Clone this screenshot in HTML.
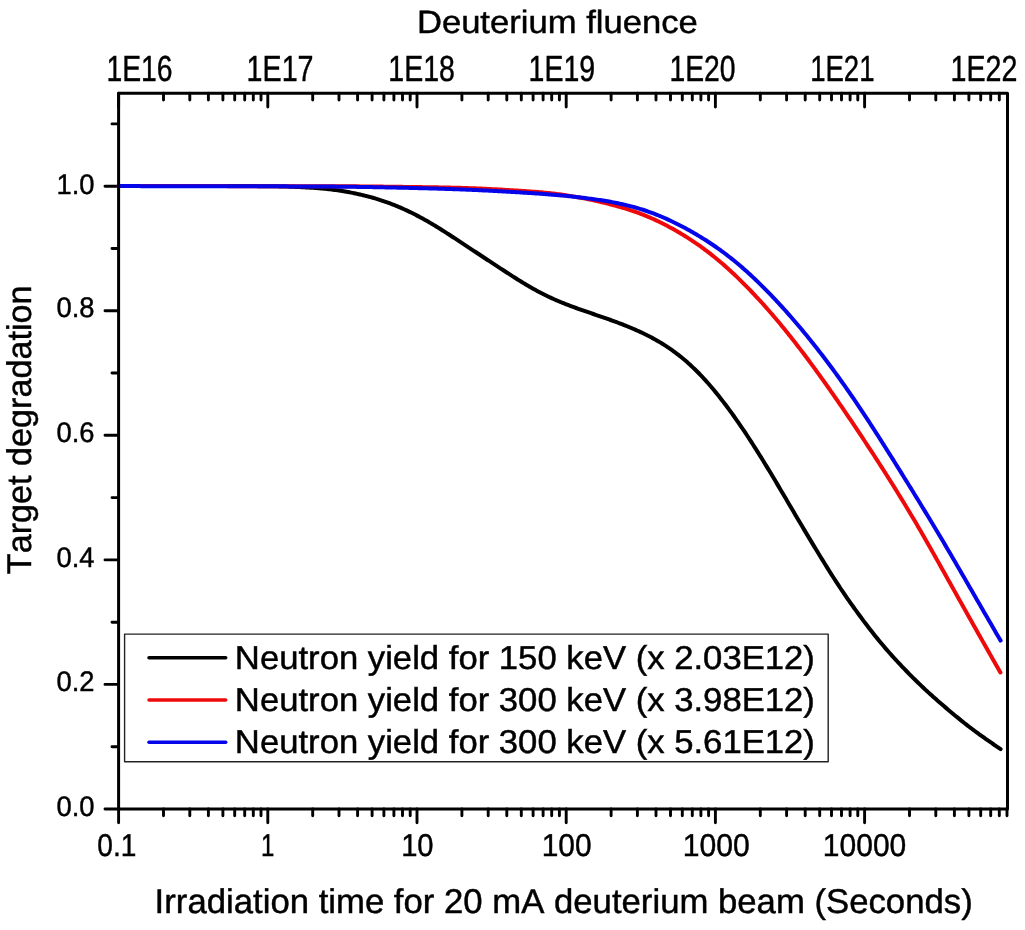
<!DOCTYPE html><html><head><meta charset="utf-8"><title>Target degradation</title>
<style>html,body{margin:0;padding:0;background:#fff;}body{width:1025px;height:930px;overflow:hidden;}svg{display:block;}text{font-family:"Liberation Sans",Arial,sans-serif;fill:#000;stroke:#000;stroke-width:0.45px;text-rendering:geometricPrecision;font-kerning:none;}</style></head><body>
<svg width="1025" height="930" viewBox="0 0 1025 930">
<rect x="0" y="0" width="1025" height="930" fill="#fff"/>
<path d="M118.6,809.0v13.8 M118.6,93.2v13.8 M163.5,809.0v6.8 M163.5,93.2v6.8 M189.8,809.0v6.8 M189.8,93.2v6.8 M208.4,809.0v6.8 M208.4,93.2v6.8 M222.9,809.0v6.8 M222.9,93.2v6.8 M234.7,809.0v6.8 M234.7,93.2v6.8 M244.7,809.0v6.8 M244.7,93.2v6.8 M253.3,809.0v6.8 M253.3,93.2v6.8 M261.0,809.0v6.8 M261.0,93.2v6.8 M267.8,809.0v13.8 M267.8,93.2v13.8 M312.7,809.0v6.8 M312.7,93.2v6.8 M339.0,809.0v6.8 M339.0,93.2v6.8 M357.6,809.0v6.8 M357.6,93.2v6.8 M372.1,809.0v6.8 M372.1,93.2v6.8 M383.9,809.0v6.8 M383.9,93.2v6.8 M393.9,809.0v6.8 M393.9,93.2v6.8 M402.5,809.0v6.8 M402.5,93.2v6.8 M410.2,809.0v6.8 M410.2,93.2v6.8 M417.0,809.0v13.8 M417.0,93.2v13.8 M461.9,809.0v6.8 M461.9,93.2v6.8 M488.2,809.0v6.8 M488.2,93.2v6.8 M506.8,809.0v6.8 M506.8,93.2v6.8 M521.3,809.0v6.8 M521.3,93.2v6.8 M533.1,809.0v6.8 M533.1,93.2v6.8 M543.1,809.0v6.8 M543.1,93.2v6.8 M551.7,809.0v6.8 M551.7,93.2v6.8 M559.4,809.0v6.8 M559.4,93.2v6.8 M566.2,809.0v13.8 M566.2,93.2v13.8 M611.1,809.0v6.8 M611.1,93.2v6.8 M637.4,809.0v6.8 M637.4,93.2v6.8 M656.0,809.0v6.8 M656.0,93.2v6.8 M670.5,809.0v6.8 M670.5,93.2v6.8 M682.3,809.0v6.8 M682.3,93.2v6.8 M692.3,809.0v6.8 M692.3,93.2v6.8 M700.9,809.0v6.8 M700.9,93.2v6.8 M708.6,809.0v6.8 M708.6,93.2v6.8 M715.4,809.0v13.8 M715.4,93.2v13.8 M760.3,809.0v6.8 M760.3,93.2v6.8 M786.6,809.0v6.8 M786.6,93.2v6.8 M805.2,809.0v6.8 M805.2,93.2v6.8 M819.7,809.0v6.8 M819.7,93.2v6.8 M831.5,809.0v6.8 M831.5,93.2v6.8 M841.5,809.0v6.8 M841.5,93.2v6.8 M850.1,809.0v6.8 M850.1,93.2v6.8 M857.8,809.0v6.8 M857.8,93.2v6.8 M864.6,809.0v13.8 M864.6,93.2v13.8 M909.5,809.0v6.8 M909.5,93.2v6.8 M935.8,809.0v6.8 M935.8,93.2v6.8 M954.4,809.0v6.8 M954.4,93.2v6.8 M968.9,809.0v6.8 M968.9,93.2v6.8 M980.7,809.0v6.8 M980.7,93.2v6.8 M990.7,809.0v6.8 M990.7,93.2v6.8 M999.3,809.0v6.8 M999.3,93.2v6.8 M1007.0,809.0v6.8 M118.6,809.0h-13.6 M118.6,746.7h-6.6 M118.6,684.4h-13.6 M118.6,622.2h-6.6 M118.6,559.9h-13.6 M118.6,497.6h-6.6 M118.6,435.3h-13.6 M118.6,373.0h-6.6 M118.6,310.8h-13.6 M118.6,248.5h-6.6 M118.6,186.2h-13.6 M118.6,123.9h-6.6" stroke="#000" stroke-width="2.9" fill="none" stroke-linecap="round"/>
<path d="M118.6,186.10 L120.1,186.10 L121.6,186.10 L123.1,186.10 L124.6,186.10 L126.1,186.10 L127.6,186.10 L129.1,186.11 L130.6,186.11 L132.1,186.11 L133.6,186.11 L135.1,186.11 L136.6,186.11 L138.1,186.11 L139.6,186.11 L141.1,186.11 L142.6,186.11 L144.1,186.11 L145.6,186.11 L147.1,186.11 L148.6,186.11 L150.1,186.11 L151.6,186.11 L153.1,186.11 L154.6,186.11 L156.1,186.11 L157.6,186.11 L159.1,186.11 L160.6,186.11 L162.1,186.11 L163.6,186.11 L165.1,186.11 L166.6,186.11 L168.1,186.11 L169.6,186.11 L171.1,186.11 L172.6,186.11 L174.1,186.11 L175.6,186.11 L177.1,186.11 L178.6,186.11 L180.1,186.11 L181.6,186.11 L183.1,186.10 L184.6,186.10 L186.1,186.10 L187.6,186.10 L189.1,186.10 L190.6,186.10 L192.1,186.10 L193.6,186.09 L195.1,186.09 L196.6,186.09 L198.1,186.09 L199.6,186.09 L201.1,186.08 L202.6,186.08 L204.1,186.08 L205.6,186.08 L207.1,186.07 L208.6,186.07 L210.1,186.07 L211.6,186.07 L213.1,186.06 L214.6,186.06 L216.1,186.06 L217.6,186.06 L219.1,186.06 L220.6,186.05 L222.1,186.05 L223.6,186.05 L225.1,186.05 L226.6,186.05 L228.1,186.05 L229.6,186.05 L231.1,186.05 L232.6,186.05 L234.1,186.05 L235.6,186.05 L237.1,186.05 L238.6,186.05 L240.1,186.06 L241.6,186.06 L243.1,186.06 L244.6,186.07 L246.1,186.07 L247.6,186.08 L249.1,186.08 L250.6,186.09 L252.1,186.09 L253.6,186.10 L255.1,186.11 L256.6,186.12 L258.1,186.13 L259.6,186.14 L261.1,186.15 L262.6,186.16 L264.1,186.17 L265.6,186.19 L267.1,186.20 L268.6,186.22 L270.1,186.24 L271.6,186.26 L273.1,186.28 L274.6,186.30 L276.1,186.33 L277.6,186.35 L279.1,186.38 L280.6,186.41 L282.1,186.45 L283.6,186.48 L285.1,186.52 L286.6,186.56 L288.1,186.61 L289.6,186.66 L291.1,186.71 L292.6,186.76 L294.1,186.82 L295.6,186.88 L297.1,186.94 L298.6,187.01 L300.1,187.08 L301.6,187.15 L303.1,187.23 L304.6,187.31 L306.1,187.39 L307.6,187.48 L309.1,187.57 L310.6,187.66 L312.1,187.76 L313.6,187.86 L315.1,187.97 L316.6,188.08 L318.1,188.20 L319.6,188.32 L321.1,188.45 L322.6,188.59 L324.1,188.73 L325.6,188.88 L327.1,189.04 L328.6,189.20 L330.1,189.37 L331.6,189.55 L333.1,189.74 L334.6,189.93 L336.1,190.14 L337.6,190.35 L339.1,190.57 L340.6,190.80 L342.1,191.03 L343.6,191.28 L345.1,191.53 L346.6,191.79 L348.1,192.06 L349.6,192.34 L351.1,192.62 L352.6,192.91 L354.1,193.22 L355.6,193.53 L357.1,193.85 L358.6,194.17 L360.1,194.51 L361.6,194.85 L363.1,195.21 L364.6,195.57 L366.1,195.95 L367.6,196.33 L369.1,196.73 L370.6,197.13 L372.1,197.55 L373.6,197.98 L375.1,198.41 L376.6,198.86 L378.1,199.33 L379.6,199.80 L381.1,200.28 L382.6,200.78 L384.1,201.29 L385.6,201.81 L387.1,202.35 L388.6,202.89 L390.1,203.45 L391.6,204.02 L393.1,204.61 L394.6,205.20 L396.1,205.81 L397.6,206.43 L399.1,207.06 L400.6,207.71 L402.1,208.36 L403.6,209.03 L405.1,209.71 L406.6,210.41 L408.1,211.11 L409.6,211.83 L411.1,212.56 L412.6,213.31 L414.1,214.06 L415.6,214.83 L417.1,215.60 L418.6,216.39 L420.1,217.19 L421.6,218.01 L423.1,218.83 L424.6,219.66 L426.1,220.51 L427.6,221.36 L429.1,222.23 L430.6,223.11 L432.1,224.00 L433.6,224.89 L435.1,225.80 L436.6,226.72 L438.1,227.64 L439.6,228.57 L441.1,229.51 L442.6,230.46 L444.1,231.41 L445.6,232.37 L447.1,233.33 L448.6,234.30 L450.1,235.27 L451.6,236.24 L453.1,237.22 L454.6,238.20 L456.1,239.18 L457.6,240.16 L459.1,241.15 L460.6,242.14 L462.1,243.12 L463.6,244.11 L465.1,245.10 L466.6,246.09 L468.1,247.08 L469.6,248.07 L471.1,249.06 L472.6,250.06 L474.1,251.05 L475.6,252.04 L477.1,253.03 L478.6,254.02 L480.1,255.01 L481.6,256.00 L483.1,256.99 L484.6,257.98 L486.1,258.97 L487.6,259.96 L489.1,260.95 L490.6,261.93 L492.1,262.92 L493.6,263.90 L495.1,264.89 L496.6,265.87 L498.1,266.85 L499.6,267.83 L501.1,268.81 L502.6,269.79 L504.1,270.77 L505.6,271.74 L507.1,272.72 L508.6,273.69 L510.1,274.66 L511.6,275.62 L513.1,276.58 L514.6,277.54 L516.1,278.49 L517.6,279.44 L519.1,280.38 L520.6,281.31 L522.1,282.23 L523.6,283.15 L525.1,284.05 L526.6,284.95 L528.1,285.83 L529.6,286.71 L531.1,287.57 L532.6,288.42 L534.1,289.26 L535.6,290.08 L537.1,290.90 L538.6,291.70 L540.1,292.49 L541.6,293.26 L543.1,294.03 L544.6,294.78 L546.1,295.52 L547.6,296.25 L549.1,296.97 L550.6,297.67 L552.1,298.37 L553.6,299.05 L555.1,299.71 L556.6,300.37 L558.1,301.01 L559.6,301.64 L561.1,302.26 L562.6,302.87 L564.1,303.47 L565.6,304.07 L567.1,304.65 L568.6,305.22 L570.1,305.79 L571.6,306.35 L573.1,306.91 L574.6,307.45 L576.1,308.00 L577.6,308.53 L579.1,309.07 L580.6,309.60 L582.1,310.12 L583.6,310.65 L585.1,311.17 L586.6,311.69 L588.1,312.20 L589.6,312.72 L591.1,313.23 L592.6,313.74 L594.1,314.26 L595.6,314.77 L597.1,315.28 L598.6,315.80 L600.1,316.31 L601.6,316.83 L603.1,317.35 L604.6,317.87 L606.1,318.40 L607.6,318.93 L609.1,319.46 L610.6,319.99 L612.1,320.54 L613.6,321.08 L615.1,321.63 L616.6,322.18 L618.1,322.75 L619.6,323.31 L621.1,323.89 L622.6,324.47 L624.1,325.05 L625.6,325.65 L627.1,326.25 L628.6,326.86 L630.1,327.48 L631.6,328.11 L633.1,328.75 L634.6,329.40 L636.1,330.06 L637.6,330.73 L639.1,331.41 L640.6,332.11 L642.1,332.81 L643.6,333.53 L645.1,334.26 L646.6,335.01 L648.1,335.76 L649.6,336.54 L651.1,337.33 L652.6,338.13 L654.1,338.95 L655.6,339.79 L657.1,340.64 L658.6,341.51 L660.1,342.40 L661.6,343.31 L663.1,344.24 L664.6,345.18 L666.1,346.15 L667.6,347.14 L669.1,348.15 L670.6,349.18 L672.1,350.23 L673.6,351.31 L675.1,352.41 L676.6,353.53 L678.1,354.68 L679.6,355.85 L681.1,357.05 L682.6,358.27 L684.1,359.52 L685.6,360.80 L687.1,362.10 L688.6,363.43 L690.1,364.79 L691.6,366.17 L693.1,367.59 L694.6,369.03 L696.1,370.50 L697.6,371.99 L699.1,373.52 L700.6,375.08 L702.1,376.66 L703.6,378.27 L705.1,379.92 L706.6,381.58 L708.1,383.28 L709.6,385.00 L711.1,386.75 L712.6,388.52 L714.1,390.32 L715.6,392.14 L717.1,393.99 L718.6,395.86 L720.1,397.76 L721.6,399.67 L723.1,401.61 L724.6,403.57 L726.1,405.55 L727.6,407.56 L729.1,409.58 L730.6,411.63 L732.1,413.70 L733.6,415.79 L735.1,417.90 L736.6,420.03 L738.1,422.18 L739.6,424.35 L741.1,426.54 L742.6,428.75 L744.1,430.97 L745.6,433.22 L747.1,435.49 L748.6,437.77 L750.1,440.07 L751.6,442.38 L753.1,444.72 L754.6,447.07 L756.1,449.43 L757.6,451.81 L759.1,454.20 L760.6,456.61 L762.1,459.04 L763.6,461.47 L765.1,463.92 L766.6,466.38 L768.1,468.85 L769.6,471.33 L771.1,473.82 L772.6,476.32 L774.1,478.83 L775.6,481.34 L777.1,483.86 L778.6,486.39 L780.1,488.93 L781.6,491.47 L783.1,494.01 L784.6,496.56 L786.1,499.11 L787.6,501.66 L789.1,504.21 L790.6,506.76 L792.1,509.31 L793.6,511.86 L795.1,514.41 L796.6,516.96 L798.1,519.50 L799.6,522.04 L801.1,524.57 L802.6,527.10 L804.1,529.62 L805.6,532.13 L807.1,534.64 L808.6,537.15 L810.1,539.64 L811.6,542.14 L813.1,544.62 L814.6,547.10 L816.1,549.57 L817.6,552.04 L819.1,554.49 L820.6,556.95 L822.1,559.39 L823.6,561.82 L825.1,564.25 L826.6,566.67 L828.1,569.07 L829.6,571.46 L831.1,573.84 L832.6,576.20 L834.1,578.54 L835.6,580.87 L837.1,583.18 L838.6,585.47 L840.1,587.74 L841.6,589.99 L843.1,592.22 L844.6,594.42 L846.1,596.61 L847.6,598.78 L849.1,600.93 L850.6,603.07 L852.1,605.18 L853.6,607.28 L855.1,609.37 L856.6,611.44 L858.1,613.49 L859.6,615.53 L861.1,617.56 L862.6,619.58 L864.1,621.58 L865.6,623.56 L867.1,625.53 L868.6,627.49 L870.1,629.43 L871.6,631.35 L873.1,633.26 L874.6,635.14 L876.1,637.02 L877.6,638.87 L879.1,640.70 L880.6,642.51 L882.1,644.31 L883.6,646.08 L885.1,647.83 L886.6,649.57 L888.1,651.29 L889.6,652.99 L891.1,654.68 L892.6,656.35 L894.1,658.00 L895.6,659.64 L897.1,661.27 L898.6,662.88 L900.1,664.47 L901.6,666.06 L903.1,667.63 L904.6,669.19 L906.1,670.74 L907.6,672.27 L909.1,673.80 L910.6,675.31 L912.1,676.82 L913.6,678.31 L915.1,679.79 L916.6,681.26 L918.1,682.72 L919.6,684.16 L921.1,685.60 L922.6,687.02 L924.1,688.44 L925.6,689.84 L927.1,691.23 L928.6,692.61 L930.1,693.97 L931.6,695.33 L933.1,696.68 L934.6,698.01 L936.1,699.34 L937.6,700.66 L939.1,701.97 L940.6,703.27 L942.1,704.56 L943.6,705.85 L945.1,707.13 L946.6,708.40 L948.1,709.67 L949.6,710.93 L951.1,712.19 L952.6,713.45 L954.1,714.69 L955.6,715.94 L957.1,717.17 L958.6,718.39 L960.1,719.61 L961.6,720.82 L963.1,722.02 L964.6,723.21 L966.1,724.39 L967.6,725.55 L969.1,726.71 L970.6,727.85 L972.1,728.99 L973.6,730.11 L975.1,731.23 L976.6,732.34 L978.1,733.43 L979.6,734.52 L981.1,735.60 L982.6,736.68 L984.1,737.74 L985.6,738.80 L987.1,739.85 L988.6,740.90 L990.1,741.94 L991.6,742.97 L993.1,744.00 L994.6,745.03 L996.1,746.05 L997.6,747.08 L999.1,748.10 L1000.6,749.12" stroke="#000" stroke-width="4.0" fill="none" stroke-linejoin="round" stroke-linecap="round"/>
<path d="M118.6,186.10 L120.1,186.10 L121.6,186.10 L123.1,186.10 L124.6,186.10 L126.1,186.10 L127.6,186.10 L129.1,186.10 L130.6,186.10 L132.1,186.10 L133.6,186.10 L135.1,186.10 L136.6,186.10 L138.1,186.10 L139.6,186.10 L141.1,186.10 L142.6,186.10 L144.1,186.10 L145.6,186.09 L147.1,186.09 L148.6,186.09 L150.1,186.09 L151.6,186.09 L153.1,186.09 L154.6,186.09 L156.1,186.09 L157.6,186.09 L159.1,186.09 L160.6,186.09 L162.1,186.09 L163.6,186.09 L165.1,186.09 L166.6,186.09 L168.1,186.09 L169.6,186.09 L171.1,186.09 L172.6,186.09 L174.1,186.09 L175.6,186.09 L177.1,186.10 L178.6,186.10 L180.1,186.10 L181.6,186.10 L183.1,186.10 L184.6,186.10 L186.1,186.10 L187.6,186.10 L189.1,186.10 L190.6,186.10 L192.1,186.10 L193.6,186.10 L195.1,186.10 L196.6,186.10 L198.1,186.10 L199.6,186.10 L201.1,186.10 L202.6,186.10 L204.1,186.11 L205.6,186.11 L207.1,186.11 L208.6,186.11 L210.1,186.11 L211.6,186.11 L213.1,186.11 L214.6,186.11 L216.1,186.11 L217.6,186.12 L219.1,186.12 L220.6,186.12 L222.1,186.12 L223.6,186.12 L225.1,186.12 L226.6,186.12 L228.1,186.13 L229.6,186.13 L231.1,186.13 L232.6,186.13 L234.1,186.13 L235.6,186.13 L237.1,186.13 L238.6,186.14 L240.1,186.14 L241.6,186.14 L243.1,186.14 L244.6,186.14 L246.1,186.14 L247.6,186.14 L249.1,186.15 L250.6,186.15 L252.1,186.15 L253.6,186.15 L255.1,186.15 L256.6,186.15 L258.1,186.15 L259.6,186.16 L261.1,186.16 L262.6,186.16 L264.1,186.16 L265.6,186.16 L267.1,186.16 L268.6,186.16 L270.1,186.16 L271.6,186.17 L273.1,186.17 L274.6,186.17 L276.1,186.17 L277.6,186.17 L279.1,186.17 L280.6,186.17 L282.1,186.17 L283.6,186.17 L285.1,186.18 L286.6,186.18 L288.1,186.18 L289.6,186.18 L291.1,186.18 L292.6,186.18 L294.1,186.18 L295.6,186.18 L297.1,186.18 L298.6,186.18 L300.1,186.18 L301.6,186.18 L303.1,186.18 L304.6,186.19 L306.1,186.19 L307.6,186.19 L309.1,186.19 L310.6,186.19 L312.1,186.19 L313.6,186.19 L315.1,186.20 L316.6,186.20 L318.1,186.20 L319.6,186.20 L321.1,186.20 L322.6,186.21 L324.1,186.21 L325.6,186.21 L327.1,186.22 L328.6,186.22 L330.1,186.22 L331.6,186.23 L333.1,186.23 L334.6,186.24 L336.1,186.24 L337.6,186.25 L339.1,186.25 L340.6,186.26 L342.1,186.27 L343.6,186.28 L345.1,186.28 L346.6,186.29 L348.1,186.30 L349.6,186.31 L351.1,186.32 L352.6,186.33 L354.1,186.34 L355.6,186.35 L357.1,186.36 L358.6,186.37 L360.1,186.39 L361.6,186.40 L363.1,186.41 L364.6,186.42 L366.1,186.44 L367.6,186.45 L369.1,186.47 L370.6,186.48 L372.1,186.50 L373.6,186.52 L375.1,186.53 L376.6,186.55 L378.1,186.56 L379.6,186.58 L381.1,186.60 L382.6,186.62 L384.1,186.63 L385.6,186.65 L387.1,186.67 L388.6,186.69 L390.1,186.71 L391.6,186.73 L393.1,186.74 L394.6,186.76 L396.1,186.78 L397.6,186.80 L399.1,186.82 L400.6,186.84 L402.1,186.86 L403.6,186.88 L405.1,186.90 L406.6,186.92 L408.1,186.94 L409.6,186.96 L411.1,186.98 L412.6,187.00 L414.1,187.02 L415.6,187.04 L417.1,187.06 L418.6,187.08 L420.1,187.10 L421.6,187.12 L423.1,187.14 L424.6,187.16 L426.1,187.19 L427.6,187.21 L429.1,187.23 L430.6,187.25 L432.1,187.27 L433.6,187.29 L435.1,187.32 L436.6,187.34 L438.1,187.37 L439.6,187.39 L441.1,187.42 L442.6,187.44 L444.1,187.47 L445.6,187.50 L447.1,187.53 L448.6,187.56 L450.1,187.59 L451.6,187.63 L453.1,187.66 L454.6,187.70 L456.1,187.73 L457.6,187.77 L459.1,187.81 L460.6,187.85 L462.1,187.90 L463.6,187.94 L465.1,187.99 L466.6,188.04 L468.1,188.09 L469.6,188.14 L471.1,188.19 L472.6,188.25 L474.1,188.31 L475.6,188.37 L477.1,188.43 L478.6,188.49 L480.1,188.56 L481.6,188.62 L483.1,188.69 L484.6,188.76 L486.1,188.83 L487.6,188.90 L489.1,188.98 L490.6,189.05 L492.1,189.13 L493.6,189.21 L495.1,189.29 L496.6,189.37 L498.1,189.45 L499.6,189.54 L501.1,189.62 L502.6,189.70 L504.1,189.79 L505.6,189.88 L507.1,189.97 L508.6,190.05 L510.1,190.14 L511.6,190.24 L513.1,190.33 L514.6,190.42 L516.1,190.51 L517.6,190.60 L519.1,190.70 L520.6,190.79 L522.1,190.89 L523.6,190.99 L525.1,191.09 L526.6,191.19 L528.1,191.30 L529.6,191.40 L531.1,191.51 L532.6,191.62 L534.1,191.74 L535.6,191.86 L537.1,191.98 L538.6,192.10 L540.1,192.23 L541.6,192.36 L543.1,192.50 L544.6,192.64 L546.1,192.79 L547.6,192.94 L549.1,193.09 L550.6,193.25 L552.1,193.42 L553.6,193.59 L555.1,193.76 L556.6,193.95 L558.1,194.13 L559.6,194.33 L561.1,194.53 L562.6,194.74 L564.1,194.95 L565.6,195.17 L567.1,195.40 L568.6,195.63 L570.1,195.87 L571.6,196.12 L573.1,196.37 L574.6,196.62 L576.1,196.89 L577.6,197.16 L579.1,197.43 L580.6,197.71 L582.1,198.00 L583.6,198.29 L585.1,198.59 L586.6,198.89 L588.1,199.20 L589.6,199.51 L591.1,199.83 L592.6,200.15 L594.1,200.48 L595.6,200.82 L597.1,201.16 L598.6,201.50 L600.1,201.85 L601.6,202.21 L603.1,202.57 L604.6,202.93 L606.1,203.31 L607.6,203.68 L609.1,204.06 L610.6,204.45 L612.1,204.84 L613.6,205.23 L615.1,205.63 L616.6,206.04 L618.1,206.46 L619.6,206.88 L621.1,207.31 L622.6,207.75 L624.1,208.19 L625.6,208.65 L627.1,209.11 L628.6,209.59 L630.1,210.07 L631.6,210.57 L633.1,211.07 L634.6,211.59 L636.1,212.12 L637.6,212.66 L639.1,213.22 L640.6,213.79 L642.1,214.36 L643.6,214.96 L645.1,215.56 L646.6,216.18 L648.1,216.80 L649.6,217.44 L651.1,218.10 L652.6,218.76 L654.1,219.44 L655.6,220.13 L657.1,220.83 L658.6,221.54 L660.1,222.27 L661.6,223.01 L663.1,223.76 L664.6,224.53 L666.1,225.30 L667.6,226.09 L669.1,226.89 L670.6,227.70 L672.1,228.52 L673.6,229.35 L675.1,230.20 L676.6,231.06 L678.1,231.93 L679.6,232.81 L681.1,233.70 L682.6,234.61 L684.1,235.52 L685.6,236.45 L687.1,237.40 L688.6,238.35 L690.1,239.32 L691.6,240.30 L693.1,241.30 L694.6,242.31 L696.1,243.33 L697.6,244.37 L699.1,245.42 L700.6,246.49 L702.1,247.57 L703.6,248.67 L705.1,249.78 L706.6,250.90 L708.1,252.04 L709.6,253.20 L711.1,254.37 L712.6,255.56 L714.1,256.76 L715.6,257.98 L717.1,259.22 L718.6,260.47 L720.1,261.73 L721.6,263.01 L723.1,264.31 L724.6,265.62 L726.1,266.95 L727.6,268.29 L729.1,269.65 L730.6,271.03 L732.1,272.42 L733.6,273.82 L735.1,275.24 L736.6,276.68 L738.1,278.13 L739.6,279.59 L741.1,281.07 L742.6,282.56 L744.1,284.06 L745.6,285.58 L747.1,287.10 L748.6,288.64 L750.1,290.19 L751.6,291.75 L753.1,293.32 L754.6,294.91 L756.1,296.51 L757.6,298.12 L759.1,299.74 L760.6,301.37 L762.1,303.02 L763.6,304.68 L765.1,306.36 L766.6,308.05 L768.1,309.75 L769.6,311.46 L771.1,313.19 L772.6,314.93 L774.1,316.69 L775.6,318.45 L777.1,320.23 L778.6,322.03 L780.1,323.83 L781.6,325.65 L783.1,327.48 L784.6,329.32 L786.1,331.17 L787.6,333.04 L789.1,334.92 L790.6,336.81 L792.1,338.71 L793.6,340.62 L795.1,342.54 L796.6,344.48 L798.1,346.42 L799.6,348.37 L801.1,350.34 L802.6,352.31 L804.1,354.30 L805.6,356.29 L807.1,358.29 L808.6,360.30 L810.1,362.32 L811.6,364.35 L813.1,366.39 L814.6,368.43 L816.1,370.49 L817.6,372.56 L819.1,374.63 L820.6,376.71 L822.1,378.80 L823.6,380.90 L825.1,383.01 L826.6,385.13 L828.1,387.26 L829.6,389.39 L831.1,391.53 L832.6,393.69 L834.1,395.84 L835.6,398.01 L837.1,400.18 L838.6,402.36 L840.1,404.54 L841.6,406.73 L843.1,408.93 L844.6,411.13 L846.1,413.34 L847.6,415.55 L849.1,417.77 L850.6,419.99 L852.1,422.22 L853.6,424.46 L855.1,426.69 L856.6,428.94 L858.1,431.19 L859.6,433.44 L861.1,435.70 L862.6,437.96 L864.1,440.23 L865.6,442.50 L867.1,444.78 L868.6,447.06 L870.1,449.35 L871.6,451.65 L873.1,453.95 L874.6,456.26 L876.1,458.57 L877.6,460.89 L879.1,463.22 L880.6,465.55 L882.1,467.90 L883.6,470.25 L885.1,472.61 L886.6,474.97 L888.1,477.35 L889.6,479.73 L891.1,482.12 L892.6,484.52 L894.1,486.93 L895.6,489.35 L897.1,491.77 L898.6,494.21 L900.1,496.65 L901.6,499.09 L903.1,501.55 L904.6,504.02 L906.1,506.49 L907.6,508.98 L909.1,511.47 L910.6,513.97 L912.1,516.49 L913.6,519.01 L915.1,521.55 L916.6,524.10 L918.1,526.66 L919.6,529.23 L921.1,531.82 L922.6,534.42 L924.1,537.02 L925.6,539.64 L927.1,542.27 L928.6,544.91 L930.1,547.56 L931.6,550.21 L933.1,552.87 L934.6,555.54 L936.1,558.21 L937.6,560.88 L939.1,563.56 L940.6,566.23 L942.1,568.92 L943.6,571.60 L945.1,574.28 L946.6,576.97 L948.1,579.65 L949.6,582.34 L951.1,585.02 L952.6,587.71 L954.1,590.39 L955.6,593.07 L957.1,595.75 L958.6,598.43 L960.1,601.11 L961.6,603.78 L963.1,606.46 L964.6,609.13 L966.1,611.81 L967.6,614.48 L969.1,617.15 L970.6,619.82 L972.1,622.49 L973.6,625.16 L975.1,627.82 L976.6,630.49 L978.1,633.15 L979.6,635.81 L981.1,638.47 L982.6,641.12 L984.1,643.78 L985.6,646.43 L987.1,649.08 L988.6,651.73 L990.1,654.38 L991.6,657.02 L993.1,659.66 L994.6,662.31 L996.1,664.95 L997.6,667.59 L999.1,670.23 L1000.4,672.52" stroke="#ee0a0a" stroke-width="4.0" fill="none" stroke-linejoin="round" stroke-linecap="round"/>
<path d="M118.6,186.10 L120.1,186.10 L121.6,186.10 L123.1,186.11 L124.6,186.11 L126.1,186.11 L127.6,186.11 L129.1,186.11 L130.6,186.11 L132.1,186.12 L133.6,186.12 L135.1,186.12 L136.6,186.12 L138.1,186.12 L139.6,186.12 L141.1,186.13 L142.6,186.13 L144.1,186.13 L145.6,186.13 L147.1,186.13 L148.6,186.13 L150.1,186.14 L151.6,186.14 L153.1,186.14 L154.6,186.14 L156.1,186.14 L157.6,186.15 L159.1,186.15 L160.6,186.15 L162.1,186.15 L163.6,186.15 L165.1,186.15 L166.6,186.16 L168.1,186.16 L169.6,186.16 L171.1,186.16 L172.6,186.16 L174.1,186.17 L175.6,186.17 L177.1,186.17 L178.6,186.17 L180.1,186.17 L181.6,186.17 L183.1,186.18 L184.6,186.18 L186.1,186.18 L187.6,186.18 L189.1,186.18 L190.6,186.19 L192.1,186.19 L193.6,186.19 L195.1,186.19 L196.6,186.19 L198.1,186.20 L199.6,186.20 L201.1,186.20 L202.6,186.20 L204.1,186.20 L205.6,186.21 L207.1,186.21 L208.6,186.21 L210.1,186.21 L211.6,186.21 L213.1,186.22 L214.6,186.22 L216.1,186.22 L217.6,186.22 L219.1,186.23 L220.6,186.23 L222.1,186.23 L223.6,186.23 L225.1,186.23 L226.6,186.24 L228.1,186.24 L229.6,186.24 L231.1,186.24 L232.6,186.25 L234.1,186.25 L235.6,186.25 L237.1,186.25 L238.6,186.26 L240.1,186.26 L241.6,186.26 L243.1,186.27 L244.6,186.27 L246.1,186.27 L247.6,186.27 L249.1,186.28 L250.6,186.28 L252.1,186.28 L253.6,186.29 L255.1,186.29 L256.6,186.29 L258.1,186.30 L259.6,186.30 L261.1,186.30 L262.6,186.31 L264.1,186.31 L265.6,186.31 L267.1,186.32 L268.6,186.32 L270.1,186.33 L271.6,186.33 L273.1,186.33 L274.6,186.34 L276.1,186.34 L277.6,186.35 L279.1,186.35 L280.6,186.35 L282.1,186.36 L283.6,186.36 L285.1,186.37 L286.6,186.37 L288.1,186.38 L289.6,186.38 L291.1,186.39 L292.6,186.39 L294.1,186.40 L295.6,186.40 L297.1,186.41 L298.6,186.41 L300.1,186.42 L301.6,186.42 L303.1,186.43 L304.6,186.44 L306.1,186.44 L307.6,186.45 L309.1,186.46 L310.6,186.46 L312.1,186.47 L313.6,186.48 L315.1,186.49 L316.6,186.49 L318.1,186.50 L319.6,186.51 L321.1,186.52 L322.6,186.53 L324.1,186.54 L325.6,186.55 L327.1,186.56 L328.6,186.57 L330.1,186.58 L331.6,186.60 L333.1,186.61 L334.6,186.62 L336.1,186.63 L337.6,186.65 L339.1,186.66 L340.6,186.68 L342.1,186.69 L343.6,186.71 L345.1,186.72 L346.6,186.74 L348.1,186.76 L349.6,186.78 L351.1,186.80 L352.6,186.82 L354.1,186.84 L355.6,186.86 L357.1,186.88 L358.6,186.90 L360.1,186.92 L361.6,186.95 L363.1,186.97 L364.6,186.99 L366.1,187.02 L367.6,187.04 L369.1,187.07 L370.6,187.10 L372.1,187.12 L373.6,187.15 L375.1,187.18 L376.6,187.21 L378.1,187.23 L379.6,187.26 L381.1,187.29 L382.6,187.32 L384.1,187.35 L385.6,187.38 L387.1,187.41 L388.6,187.44 L390.1,187.47 L391.6,187.50 L393.1,187.54 L394.6,187.57 L396.1,187.60 L397.6,187.63 L399.1,187.67 L400.6,187.70 L402.1,187.73 L403.6,187.77 L405.1,187.80 L406.6,187.84 L408.1,187.87 L409.6,187.91 L411.1,187.94 L412.6,187.98 L414.1,188.01 L415.6,188.05 L417.1,188.09 L418.6,188.13 L420.1,188.16 L421.6,188.20 L423.1,188.24 L424.6,188.28 L426.1,188.32 L427.6,188.36 L429.1,188.40 L430.6,188.44 L432.1,188.48 L433.6,188.52 L435.1,188.57 L436.6,188.61 L438.1,188.65 L439.6,188.70 L441.1,188.74 L442.6,188.79 L444.1,188.83 L445.6,188.88 L447.1,188.93 L448.6,188.98 L450.1,189.03 L451.6,189.08 L453.1,189.13 L454.6,189.18 L456.1,189.24 L457.6,189.29 L459.1,189.35 L460.6,189.40 L462.1,189.46 L463.6,189.52 L465.1,189.58 L466.6,189.64 L468.1,189.70 L469.6,189.76 L471.1,189.83 L472.6,189.89 L474.1,189.96 L475.6,190.03 L477.1,190.10 L478.6,190.17 L480.1,190.24 L481.6,190.31 L483.1,190.39 L484.6,190.46 L486.1,190.54 L487.6,190.61 L489.1,190.69 L490.6,190.77 L492.1,190.85 L493.6,190.93 L495.1,191.01 L496.6,191.09 L498.1,191.17 L499.6,191.25 L501.1,191.33 L502.6,191.42 L504.1,191.50 L505.6,191.59 L507.1,191.67 L508.6,191.76 L510.1,191.85 L511.6,191.93 L513.1,192.02 L514.6,192.11 L516.1,192.20 L517.6,192.29 L519.1,192.37 L520.6,192.46 L522.1,192.55 L523.6,192.65 L525.1,192.74 L526.6,192.83 L528.1,192.93 L529.6,193.02 L531.1,193.12 L532.6,193.21 L534.1,193.31 L535.6,193.41 L537.1,193.52 L538.6,193.62 L540.1,193.73 L541.6,193.83 L543.1,193.94 L544.6,194.05 L546.1,194.17 L547.6,194.28 L549.1,194.40 L550.6,194.52 L552.1,194.64 L553.6,194.76 L555.1,194.89 L556.6,195.02 L558.1,195.15 L559.6,195.29 L561.1,195.43 L562.6,195.57 L564.1,195.71 L565.6,195.86 L567.1,196.01 L568.6,196.16 L570.1,196.32 L571.6,196.48 L573.1,196.64 L574.6,196.80 L576.1,196.97 L577.6,197.14 L579.1,197.31 L580.6,197.49 L582.1,197.67 L583.6,197.85 L585.1,198.03 L586.6,198.22 L588.1,198.41 L589.6,198.61 L591.1,198.81 L592.6,199.01 L594.1,199.21 L595.6,199.43 L597.1,199.64 L598.6,199.86 L600.1,200.09 L601.6,200.32 L603.1,200.55 L604.6,200.80 L606.1,201.05 L607.6,201.30 L609.1,201.56 L610.6,201.83 L612.1,202.11 L613.6,202.39 L615.1,202.69 L616.6,202.99 L618.1,203.29 L619.6,203.61 L621.1,203.94 L622.6,204.27 L624.1,204.61 L625.6,204.96 L627.1,205.33 L628.6,205.70 L630.1,206.08 L631.6,206.47 L633.1,206.88 L634.6,207.29 L636.1,207.72 L637.6,208.15 L639.1,208.60 L640.6,209.06 L642.1,209.53 L643.6,210.01 L645.1,210.50 L646.6,211.01 L648.1,211.53 L649.6,212.06 L651.1,212.60 L652.6,213.15 L654.1,213.72 L655.6,214.30 L657.1,214.89 L658.6,215.49 L660.1,216.11 L661.6,216.74 L663.1,217.38 L664.6,218.03 L666.1,218.70 L667.6,219.37 L669.1,220.06 L670.6,220.76 L672.1,221.47 L673.6,222.19 L675.1,222.93 L676.6,223.67 L678.1,224.43 L679.6,225.19 L681.1,225.97 L682.6,226.75 L684.1,227.55 L685.6,228.36 L687.1,229.18 L688.6,230.00 L690.1,230.84 L691.6,231.69 L693.1,232.55 L694.6,233.42 L696.1,234.30 L697.6,235.19 L699.1,236.09 L700.6,237.01 L702.1,237.93 L703.6,238.86 L705.1,239.81 L706.6,240.77 L708.1,241.74 L709.6,242.72 L711.1,243.71 L712.6,244.72 L714.1,245.74 L715.6,246.77 L717.1,247.82 L718.6,248.88 L720.1,249.96 L721.6,251.05 L723.1,252.15 L724.6,253.27 L726.1,254.40 L727.6,255.55 L729.1,256.71 L730.6,257.89 L732.1,259.09 L733.6,260.29 L735.1,261.52 L736.6,262.76 L738.1,264.01 L739.6,265.28 L741.1,266.57 L742.6,267.87 L744.1,269.18 L745.6,270.51 L747.1,271.85 L748.6,273.21 L750.1,274.58 L751.6,275.97 L753.1,277.37 L754.6,278.78 L756.1,280.21 L757.6,281.65 L759.1,283.10 L760.6,284.57 L762.1,286.05 L763.6,287.55 L765.1,289.05 L766.6,290.57 L768.1,292.10 L769.6,293.65 L771.1,295.20 L772.6,296.77 L774.1,298.35 L775.6,299.95 L777.1,301.55 L778.6,303.17 L780.1,304.80 L781.6,306.44 L783.1,308.09 L784.6,309.75 L786.1,311.43 L787.6,313.11 L789.1,314.81 L790.6,316.52 L792.1,318.24 L793.6,319.97 L795.1,321.71 L796.6,323.47 L798.1,325.23 L799.6,327.01 L801.1,328.80 L802.6,330.60 L804.1,332.41 L805.6,334.24 L807.1,336.07 L808.6,337.92 L810.1,339.78 L811.6,341.65 L813.1,343.54 L814.6,345.43 L816.1,347.34 L817.6,349.25 L819.1,351.18 L820.6,353.12 L822.1,355.07 L823.6,357.04 L825.1,359.01 L826.6,361.00 L828.1,362.99 L829.6,365.00 L831.1,367.02 L832.6,369.05 L834.1,371.09 L835.6,373.15 L837.1,375.21 L838.6,377.29 L840.1,379.38 L841.6,381.48 L843.1,383.59 L844.6,385.71 L846.1,387.85 L847.6,389.99 L849.1,392.15 L850.6,394.32 L852.1,396.50 L853.6,398.69 L855.1,400.90 L856.6,403.11 L858.1,405.34 L859.6,407.57 L861.1,409.82 L862.6,412.07 L864.1,414.34 L865.6,416.62 L867.1,418.90 L868.6,421.20 L870.1,423.50 L871.6,425.81 L873.1,428.13 L874.6,430.46 L876.1,432.80 L877.6,435.14 L879.1,437.49 L880.6,439.85 L882.1,442.21 L883.6,444.58 L885.1,446.96 L886.6,449.34 L888.1,451.72 L889.6,454.11 L891.1,456.51 L892.6,458.90 L894.1,461.30 L895.6,463.71 L897.1,466.11 L898.6,468.52 L900.1,470.93 L901.6,473.35 L903.1,475.76 L904.6,478.18 L906.1,480.60 L907.6,483.02 L909.1,485.45 L910.6,487.88 L912.1,490.31 L913.6,492.74 L915.1,495.18 L916.6,497.63 L918.1,500.07 L919.6,502.52 L921.1,504.98 L922.6,507.44 L924.1,509.90 L925.6,512.36 L927.1,514.83 L928.6,517.31 L930.1,519.79 L931.6,522.27 L933.1,524.76 L934.6,527.26 L936.1,529.76 L937.6,532.26 L939.1,534.78 L940.6,537.30 L942.1,539.82 L943.6,542.35 L945.1,544.89 L946.6,547.44 L948.1,549.99 L949.6,552.54 L951.1,555.10 L952.6,557.67 L954.1,560.24 L955.6,562.82 L957.1,565.40 L958.6,567.98 L960.1,570.57 L961.6,573.16 L963.1,575.76 L964.6,578.35 L966.1,580.95 L967.6,583.55 L969.1,586.15 L970.6,588.75 L972.1,591.35 L973.6,593.95 L975.1,596.55 L976.6,599.16 L978.1,601.76 L979.6,604.36 L981.1,606.96 L982.6,609.56 L984.1,612.16 L985.6,614.76 L987.1,617.35 L988.6,619.94 L990.1,622.53 L991.6,625.12 L993.1,627.71 L994.6,630.29 L996.1,632.88 L997.6,635.46 L999.1,638.04 L1000.6,640.62" stroke="#0505ea" stroke-width="4.0" fill="none" stroke-linejoin="round" stroke-linecap="round"/>
<rect x="118.6" y="93.2" width="888.9" height="715.8" fill="none" stroke="#000" stroke-width="3.0" stroke-linejoin="round"/>
<rect x="124.6" y="634.1" width="703.6" height="127.7" fill="#fff" stroke="#222" stroke-width="1.4" stroke-linejoin="round"/>
<path d="M149,657.8H225.7" stroke="#000" stroke-width="3.5" stroke-linecap="round"/>
<path d="M149,699.9H225.7" stroke="#ee0a0a" stroke-width="3.5" stroke-linecap="round"/>
<path d="M149,742.2H225.7" stroke="#0505ea" stroke-width="3.5" stroke-linecap="round"/>
<text x="557.31" y="33.42" font-size="32.22" text-anchor="middle" textLength="280.83" lengthAdjust="spacingAndGlyphs">Deuterium fluence</text>
<text x="139.46" y="80.98" font-size="36.26" text-anchor="middle" textLength="66.15" lengthAdjust="spacingAndGlyphs">1E16</text>
<text x="280.08" y="80.98" font-size="36.26" text-anchor="middle" textLength="67.00" lengthAdjust="spacingAndGlyphs">1E17</text>
<text x="421.67" y="80.98" font-size="36.26" text-anchor="middle" textLength="66.66" lengthAdjust="spacingAndGlyphs">1E18</text>
<text x="561.90" y="80.98" font-size="36.26" text-anchor="middle" textLength="66.59" lengthAdjust="spacingAndGlyphs">1E19</text>
<text x="702.52" y="80.98" font-size="36.26" text-anchor="middle" textLength="66.08" lengthAdjust="spacingAndGlyphs">1E20</text>
<text x="842.34" y="80.98" font-size="36.26" text-anchor="middle" textLength="64.42" lengthAdjust="spacingAndGlyphs">1E21</text>
<text x="984.01" y="80.98" font-size="36.26" text-anchor="middle" textLength="66.86" lengthAdjust="spacingAndGlyphs">1E22</text>
<text x="94.60" y="815.77" font-size="28.36" text-anchor="end" textLength="38.01" lengthAdjust="spacingAndGlyphs">0.0</text>
<text x="94.60" y="691.08" font-size="28.36" text-anchor="end" textLength="38.01" lengthAdjust="spacingAndGlyphs">0.2</text>
<text x="94.60" y="567.23" font-size="28.36" text-anchor="end" textLength="38.01" lengthAdjust="spacingAndGlyphs">0.4</text>
<text x="94.60" y="441.97" font-size="28.36" text-anchor="end" textLength="38.01" lengthAdjust="spacingAndGlyphs">0.6</text>
<text x="94.60" y="317.32" font-size="28.36" text-anchor="end" textLength="38.01" lengthAdjust="spacingAndGlyphs">0.8</text>
<text x="94.60" y="193.58" font-size="28.36" text-anchor="end" textLength="38.01" lengthAdjust="spacingAndGlyphs">1.0</text>
<text x="116.82" y="856.23" font-size="31.64" text-anchor="middle" textLength="39.07" lengthAdjust="spacingAndGlyphs">0.1</text>
<text x="267.55" y="856.23" font-size="31.64" text-anchor="middle" textLength="13.34" lengthAdjust="spacingAndGlyphs">1</text>
<text x="417.38" y="856.23" font-size="31.64" text-anchor="middle" textLength="32.47" lengthAdjust="spacingAndGlyphs">10</text>
<text x="566.60" y="856.23" font-size="31.64" text-anchor="middle" textLength="49.95" lengthAdjust="spacingAndGlyphs">100</text>
<text x="716.16" y="856.23" font-size="31.64" text-anchor="middle" textLength="67.04" lengthAdjust="spacingAndGlyphs">1000</text>
<text x="864.56" y="856.23" font-size="31.64" text-anchor="middle" textLength="83.43" lengthAdjust="spacingAndGlyphs">10000</text>
<text x="154.63" y="913.35" font-size="34.29" text-anchor="start" textLength="818.08" lengthAdjust="spacingAndGlyphs">Irradiation time for 20 mA deuterium beam (Seconds)</text>
<text x="31.06" y="574.12" font-size="34.26" text-anchor="start" textLength="288.72" lengthAdjust="spacingAndGlyphs" transform="rotate(-90 31.06 574.12)">Target degradation</text>
<text x="234.86" y="669.02" font-size="33.01" text-anchor="start" textLength="580.03" lengthAdjust="spacingAndGlyphs">Neutron yield for 150 keV (x 2.03E12)</text>
<text x="234.86" y="711.04" font-size="33.01" text-anchor="start" textLength="580.03" lengthAdjust="spacingAndGlyphs">Neutron yield for 300 keV (x 3.98E12)</text>
<text x="234.86" y="753.19" font-size="33.01" text-anchor="start" textLength="580.03" lengthAdjust="spacingAndGlyphs">Neutron yield for 300 keV (x 5.61E12)</text>
</svg></body></html>
